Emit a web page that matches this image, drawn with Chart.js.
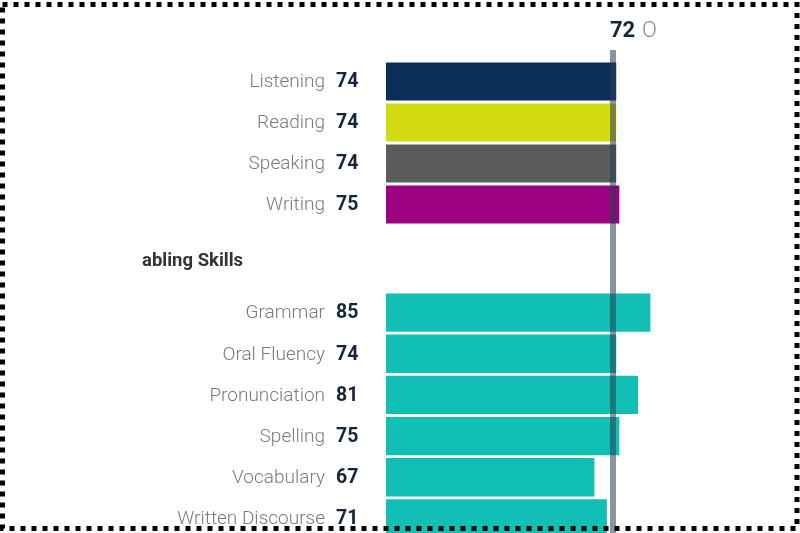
<!DOCTYPE html>
<html>
<head>
<meta charset="utf-8">
<script src="https://cdn.jsdelivr.net/npm/chart.js@4.4.0/dist/chart.umd.min.js"></script>
<style>
  html, body { margin: 0; padding: 0; background: #fff; overflow: hidden; }
  #wrap { position: relative; width: 800px; height: 533px; overflow: hidden; }
  #CommChart { position: absolute; left: 0; top: 0; }
  #SkillChart { position: absolute; left: 0; top: 240px; }
  #frame { position: absolute; left: 0; top: 0; pointer-events: none; }
</style>
</head>
<body>
<div id="wrap">
  <canvas id="CommChart" width="800" height="240"></canvas>
  <canvas id="SkillChart" width="800" height="310"></canvas>
  <svg id="frame" width="800" height="533">
    <rect x="2.5" y="4.5" width="794.5" height="524" fill="none" stroke="#000" stroke-width="5" stroke-dasharray="5 6"/>
  </svg>
</div>
<script>
// communicative skills
const commLabels = ['Listening', 'Reading', 'Speaking', 'Writing'];
const commScores = [74, 74, 74, 75];
const commColors = ['#0b2d58', '#d3dc12', '#5b5b5b', '#9b0180'];

// enabling skills
const skillLabels = ['Grammar', 'Oral Fluency', 'Pronunciation', 'Spelling', 'Vocabulary', 'Written Discourse'];
const skillScores = [85, 74, 81, 75, 67, 71];
const skillColor = '#11bfb4';

const overallScore = 72;
const scoreMax = 90;

// vertical overall marker + left side labels
function makeOverlay(labels, scores, opts) {
  return {
    id: 'overlay',
    afterDatasetsDraw(chart) {
      const ctx = chart.ctx;
      const x = chart.scales.x;
      const meta = chart.getDatasetMeta(0);
      const lx = x.getPixelForValue(overallScore);
      ctx.save();
      ctx.fillStyle = 'rgba(40, 62, 82, 0.55)';
      ctx.fillRect(lx, opts.lineTop, 6, chart.height - opts.lineTop);

      ctx.textBaseline = 'middle';
      meta.data.forEach((bar, i) => {
        ctx.textAlign = 'right';
        ctx.font = '300 19px Roboto';
        ctx.fillStyle = '#7a7a7a';
        ctx.fillText(labels[i], 325, bar.y + 1);
        ctx.font = 'bold 19.5px Roboto';
        ctx.fillStyle = '#15263b';
        ctx.fillText(scores[i], 358.5, bar.y + 1);
      });

      if (opts.showTop) {
        ctx.textBaseline = 'alphabetic';
        ctx.textAlign = 'left';
        ctx.font = 'bold 22px Roboto';
        ctx.fillStyle = '#15263b';
        ctx.fillText(String(overallScore), lx, 37);
        ctx.font = '300 22px Roboto';
        ctx.fillStyle = '#8a8a8a';
        ctx.fillText('O', 642, 37);
      }
      if (opts.header) {
        ctx.textAlign = 'left';
        ctx.font = 'bold 18.5px Roboto';
        ctx.fillStyle = '#333333';
        ctx.fillText(opts.header, 142, 21);
      }
      ctx.restore();
    }
  };
}

function barOptions(pad) {
  return {
    indexAxis: 'y',
    responsive: false,
    animation: false,
    layout: { padding: pad },
    plugins: { legend: { display: false }, tooltip: { enabled: false } },
    scales: {
      x: { display: false, min: 0, max: scoreMax },
      y: { display: false }
    }
  };
}

new Chart(document.getElementById('CommChart'), {
  type: 'bar',
  data: {
    labels: commLabels,
    datasets: [{
      data: commScores,
      backgroundColor: commColors,
      barPercentage: 0.93,
      categoryPercentage: 1
    }]
  },
  options: barOptions({ left: 386, right: 134, top: 61, bottom: 15 }),
  plugins: [makeOverlay(commLabels, commScores, { lineTop: 50, showTop: true })]
});

new Chart(document.getElementById('SkillChart'), {
  type: 'bar',
  data: {
    labels: skillLabels,
    datasets: [{
      data: skillScores,
      backgroundColor: skillColor,
      barPercentage: 0.93,
      categoryPercentage: 1
    }]
  },
  options: barOptions({ left: 386, right: 134, top: 52, bottom: 11 }),
  plugins: [makeOverlay(skillLabels, skillScores, { lineTop: 0, header: 'abling Skills' })]
});
</script>
</body>
</html>
